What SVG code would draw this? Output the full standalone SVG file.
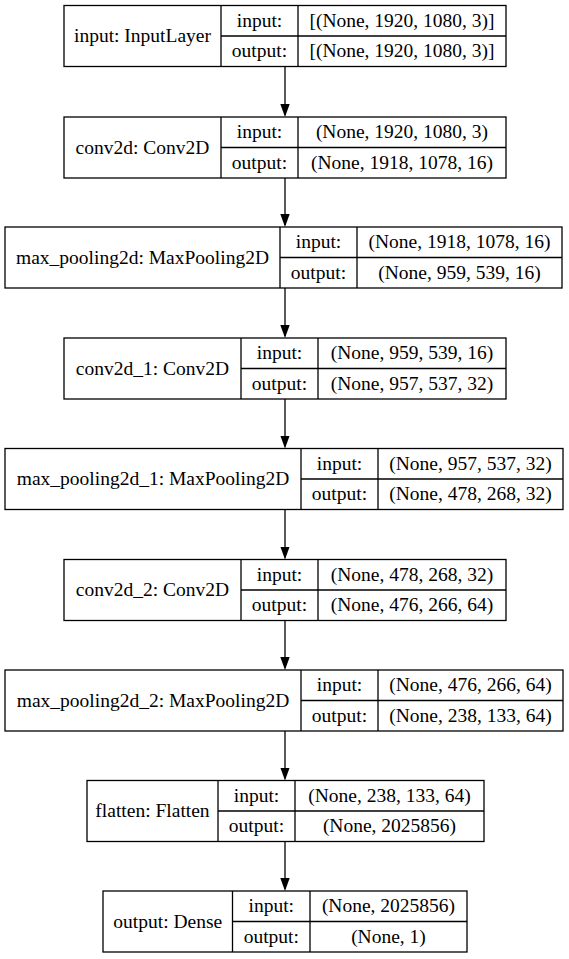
<svg xmlns="http://www.w3.org/2000/svg" width="569" height="959" viewBox="0 0 569 959">
<style>
.bx{fill:#fff;stroke:#000;stroke-width:1.3}
.b{fill:none;stroke:#000;stroke-width:1.3}
text{font-family:"Liberation Serif","Times New Roman",Times,serif;font-size:19.5px;fill:#000;text-anchor:middle}
.e{stroke:#000;stroke-width:1.3;fill:none}
</style>
<defs>
<marker id="ah" markerUnits="userSpaceOnUse" viewBox="0 0 13 9.4" markerWidth="13" markerHeight="9.4" refX="11" refY="4.7" orient="auto">
<path d="M0,0 L13,4.7 L0,9.4 z" fill="#000"/>
</marker>
</defs>
<rect x="0" y="0" width="569" height="959" fill="#fff"/>
<g id="edges">
<line class="e" x1="285" y1="66.5" x2="285" y2="115" marker-end="url(#ah)"/>
<line class="e" x1="285" y1="178" x2="285" y2="225" marker-end="url(#ah)"/>
<line class="e" x1="285" y1="288" x2="285" y2="336" marker-end="url(#ah)"/>
<line class="e" x1="285" y1="399" x2="285" y2="446.5" marker-end="url(#ah)"/>
<line class="e" x1="285" y1="509.5" x2="285" y2="557.5" marker-end="url(#ah)"/>
<line class="e" x1="285" y1="620.5" x2="285" y2="668" marker-end="url(#ah)"/>
<line class="e" x1="285" y1="731" x2="285" y2="778.5" marker-end="url(#ah)"/>
<line class="e" x1="285" y1="841.5" x2="285" y2="889" marker-end="url(#ah)"/>
</g>
<g id="n1">
<rect class="bx" x="64" y="5.5" width="442" height="61"/>
<line class="b" x1="221" y1="5.5" x2="221" y2="66.5"/>
<line class="b" x1="298" y1="5.5" x2="298" y2="66.5"/>
<line class="b" x1="221" y1="36" x2="506" y2="36"/>
<text x="142.5" y="42">input: InputLayer</text>
<text x="259.5" y="26.7">input:</text>
<text x="259.5" y="57.2">output:</text>
<text x="402" y="26.7">[(None, 1920, 1080, 3)]</text>
<text x="402" y="57.2">[(None, 1920, 1080, 3)]</text>
</g>
<g id="n2">
<rect class="bx" x="64" y="117" width="442" height="61"/>
<line class="b" x1="221" y1="117" x2="221" y2="178"/>
<line class="b" x1="298" y1="117" x2="298" y2="178"/>
<line class="b" x1="221" y1="147.5" x2="506" y2="147.5"/>
<text x="142.5" y="153.5">conv2d: Conv2D</text>
<text x="259.5" y="138.2">input:</text>
<text x="259.5" y="168.7">output:</text>
<text x="402" y="138.2">(None, 1920, 1080, 3)</text>
<text x="402" y="168.7">(None, 1918, 1078, 16)</text>
</g>
<g id="n3">
<rect class="bx" x="5" y="227" width="557" height="61"/>
<line class="b" x1="280" y1="227" x2="280" y2="288"/>
<line class="b" x1="357" y1="227" x2="357" y2="288"/>
<line class="b" x1="280" y1="257.5" x2="562" y2="257.5"/>
<text x="142.5" y="263.5">max_pooling2d: MaxPooling2D</text>
<text x="318.5" y="248.2">input:</text>
<text x="318.5" y="278.7">output:</text>
<text x="459.5" y="248.2">(None, 1918, 1078, 16)</text>
<text x="459.5" y="278.7">(None, 959, 539, 16)</text>
</g>
<g id="n4">
<rect class="bx" x="64" y="338" width="442" height="61"/>
<line class="b" x1="241" y1="338" x2="241" y2="399"/>
<line class="b" x1="318" y1="338" x2="318" y2="399"/>
<line class="b" x1="241" y1="368.5" x2="506" y2="368.5"/>
<text x="152.5" y="374.5">conv2d_1: Conv2D</text>
<text x="279.5" y="359.2">input:</text>
<text x="279.5" y="389.7">output:</text>
<text x="412" y="359.2">(None, 959, 539, 16)</text>
<text x="412" y="389.7">(None, 957, 537, 32)</text>
</g>
<g id="n5">
<rect class="bx" x="5" y="448.5" width="558" height="61"/>
<line class="b" x1="301" y1="448.5" x2="301" y2="509.5"/>
<line class="b" x1="378" y1="448.5" x2="378" y2="509.5"/>
<line class="b" x1="301" y1="479" x2="563" y2="479"/>
<text x="153" y="485">max_pooling2d_1: MaxPooling2D</text>
<text x="339.5" y="469.7">input:</text>
<text x="339.5" y="500.2">output:</text>
<text x="470.5" y="469.7">(None, 957, 537, 32)</text>
<text x="470.5" y="500.2">(None, 478, 268, 32)</text>
</g>
<g id="n6">
<rect class="bx" x="64" y="559.5" width="442" height="61"/>
<line class="b" x1="241" y1="559.5" x2="241" y2="620.5"/>
<line class="b" x1="318" y1="559.5" x2="318" y2="620.5"/>
<line class="b" x1="241" y1="590" x2="506" y2="590"/>
<text x="152.5" y="596">conv2d_2: Conv2D</text>
<text x="279.5" y="580.7">input:</text>
<text x="279.5" y="611.2">output:</text>
<text x="412" y="580.7">(None, 478, 268, 32)</text>
<text x="412" y="611.2">(None, 476, 266, 64)</text>
</g>
<g id="n7">
<rect class="bx" x="5" y="670" width="558" height="61"/>
<line class="b" x1="301" y1="670" x2="301" y2="731"/>
<line class="b" x1="378" y1="670" x2="378" y2="731"/>
<line class="b" x1="301" y1="700.5" x2="563" y2="700.5"/>
<text x="153" y="706.5">max_pooling2d_2: MaxPooling2D</text>
<text x="339.5" y="691.2">input:</text>
<text x="339.5" y="721.7">output:</text>
<text x="470.5" y="691.2">(None, 476, 266, 64)</text>
<text x="470.5" y="721.7">(None, 238, 133, 64)</text>
</g>
<g id="n8">
<rect class="bx" x="87" y="780.5" width="397" height="61"/>
<line class="b" x1="218" y1="780.5" x2="218" y2="841.5"/>
<line class="b" x1="295" y1="780.5" x2="295" y2="841.5"/>
<line class="b" x1="218" y1="811" x2="484" y2="811"/>
<text x="152.5" y="817">flatten: Flatten</text>
<text x="256.5" y="801.7">input:</text>
<text x="256.5" y="832.2">output:</text>
<text x="389.5" y="801.7">(None, 238, 133, 64)</text>
<text x="389.5" y="832.2">(None, 2025856)</text>
</g>
<g id="n9">
<rect class="bx" x="103" y="891" width="364" height="61"/>
<line class="b" x1="232.5" y1="891" x2="232.5" y2="952"/>
<line class="b" x1="310" y1="891" x2="310" y2="952"/>
<line class="b" x1="232.5" y1="921.5" x2="467" y2="921.5"/>
<text x="167.8" y="927.5">output: Dense</text>
<text x="271.3" y="912.2">input:</text>
<text x="271.3" y="942.7">output:</text>
<text x="388.5" y="912.2">(None, 2025856)</text>
<text x="388.5" y="942.7">(None, 1)</text>
</g>
</svg>
